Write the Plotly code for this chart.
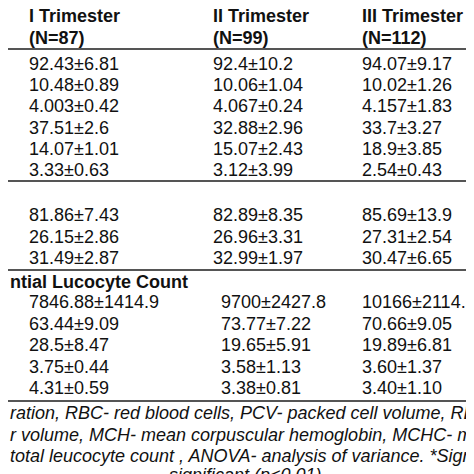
import plotly.graph_objects as go

headers = ["I Trimester", "II Trimester", "III Trimester"]
ns = ["(N=87)", "(N=99)", "(N=112)"]
group1 = [
    ["92.43±6.81", "92.4±10.2", "94.07±9.17"],
    ["10.48±0.89", "10.06±1.04", "10.02±1.26"],
    ["4.003±0.42", "4.067±0.24", "4.157±1.83"],
    ["37.51±2.6", "32.88±2.96", "33.7±3.27"],
    ["14.07±1.01", "15.07±2.43", "18.9±3.85"],
    ["3.33±0.63", "3.12±3.99", "2.54±0.43"],
]
group2 = [
    ["81.86±7.43", "82.89±8.35", "85.69±13.9"],
    ["26.15±2.86", "26.96±3.31", "27.31±2.54"],
    ["31.49±2.87", "32.99±1.97", "30.47±6.65"],
]
section_title = "ntial Lucocyte Count"
group3 = [
    ["7846.88±1414.9", "9700±2427.8", "10166±2114.3"],
    ["63.44±9.09", "73.77±7.22", "70.66±9.05"],
    ["28.5±8.47", "19.65±5.91", "19.89±6.81"],
    ["3.75±0.44", "3.58±1.13", "3.60±1.37"],
    ["4.31±0.59", "3.38±0.81", "3.40±1.10"],
]
footnote = [
    "ration, RBC- red blood cells, PCV- packed cell volume, RDW-r",
    "r volume, MCH- mean corpuscular hemoglobin, MCHC- mean c",
    "total leucocyte count , ANOVA- analysis of variance. *Significa",
    "significant (p<0.01)",
]

FONT = "Liberation Sans, Arial, sans-serif"
FS = 18
cols = [19, 203, 352]
cols3 = [19, 211, 352]
ann = []
def txt(x, y, s, bold=False, italic=False, xanchor="left"):
    if bold: s = "<b>" + s + "</b>"
    if italic: s = "<i>" + s + "</i>"
    ann.append(dict(x=x, y=y, xref="x", yref="y", text=s, showarrow=False,
                    xanchor=xanchor, yanchor="middle",
                    font=dict(family=FONT, size=FS, color="#111")))

for i, h in enumerate(headers):
    txt(cols[i], 8, h, bold=True)
    txt(cols[i], 30, ns[i], bold=True)
for r, row in enumerate(group1):
    for c, v in enumerate(row):
        txt(cols[c], 56 + r * 21.2, v)
for r, row in enumerate(group2):
    for c, v in enumerate(row):
        txt(cols[c], 207 + r * 21.5, v)
txt(0, 274, section_title, bold=True)
for r, row in enumerate(group3):
    for c, v in enumerate(row):
        txt(cols3[c], 294 + r * 21.5, v)
fy = [405, 427, 448, 467]
fx = [0, 0, 0, 237]
for i, s in enumerate(footnote):
    txt(fx[i], fy[i], s, italic=True, xanchor="center" if i == 3 else "left")

shapes = [dict(type="line", xref="x", yref="y", x0=0, x1=474, y0=y, y1=y,
               line=dict(color="#555", width=2)) for y in [41, 173, 262, 393]]

fig = go.Figure()
fig.update_layout(width=474, height=474, margin=dict(l=0, r=0, t=0, b=0),
                  paper_bgcolor="white", plot_bgcolor="white",
                  xaxis=dict(range=[0, 474], visible=False, fixedrange=True),
                  yaxis=dict(range=[474, 0], visible=False, fixedrange=True),
                  annotations=ann, shapes=shapes, showlegend=False)
fig.write_html("out.html", config={"displayModeBar": False})
